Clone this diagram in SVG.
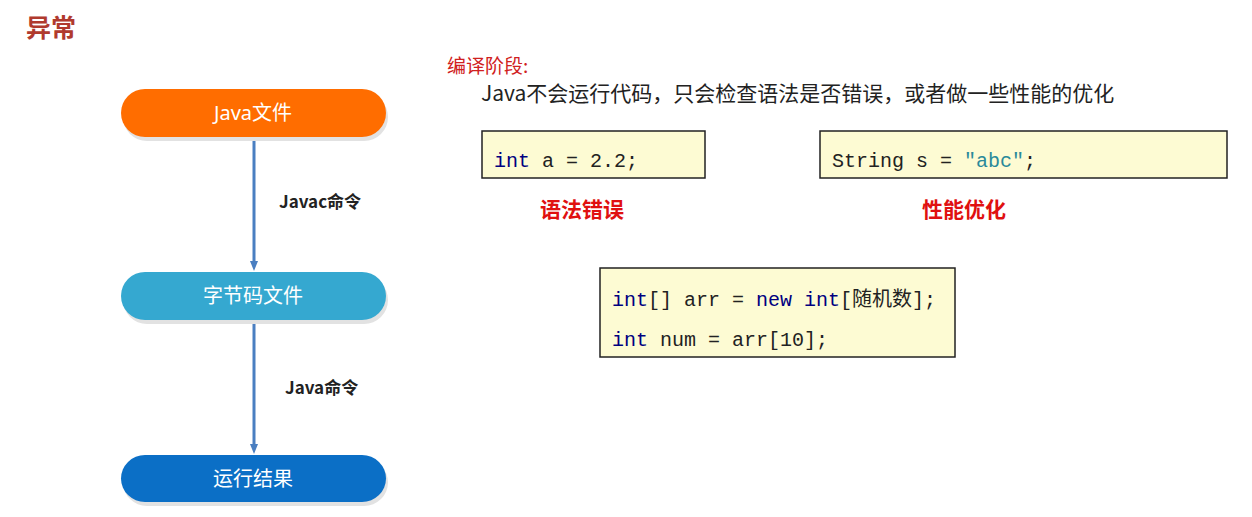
<svg xmlns="http://www.w3.org/2000/svg" width="1252" height="517" viewBox="0 0 1252 517">
<style>
.nt{font-family:"Noto Sans","Noto Sans CJK SC",sans-serif;font-size:20px;fill:#fff;text-anchor:middle}
.lbl{font-family:"Noto Sans CJK SC",sans-serif;font-size:17px;font-weight:bold;fill:#222}
.code{font-family:"Liberation Mono","Noto Sans CJK SC",monospace;font-size:20px;fill:#222}
.kw{fill:#000080}
.box{fill:#fdfbd3;stroke:#222;stroke-width:1.5}
.red{font-family:"Noto Sans CJK SC",sans-serif;font-weight:bold;font-size:21px;fill:#e01010}
</style>
<defs>
<marker id="ah" markerWidth="10" markerHeight="10" refX="5" refY="5" orient="auto" markerUnits="userSpaceOnUse"><path d="M0,1 L10,5 L0,9 z" fill="#4a7fc1"/></marker>
</defs>
<rect width="1252" height="517" fill="#fff"/>
<text x="26" y="37" font-family="Noto Sans CJK SC,sans-serif" font-size="25" font-weight="bold" fill="#b03a2e">异常</text>
<g id="connectors" stroke="#4a7fc1" stroke-width="3" fill="none">
<line x1="254" y1="137" x2="254" y2="266" marker-end="url(#ah)"/>
<line x1="254" y1="320" x2="254" y2="449" marker-end="url(#ah)"/>
</g>
<text class="lbl" x="279" y="208">Javac命令</text>
<text class="lbl" x="285" y="394">Java命令</text>
<g id="n1"><rect x="123" y="93" width="265" height="48" rx="24" fill="#e2e2e2"/><rect x="121" y="89" width="265" height="48" rx="24" fill="#ff6d00"/><text class="nt" x="253" y="120">Java文件</text></g>
<g id="n2"><rect x="123" y="276" width="265" height="48" rx="24" fill="#e2e2e2"/><rect x="121" y="272" width="265" height="48" rx="24" fill="#35a8d0"/><text class="nt" x="253" y="303">字节码文件</text></g>
<g id="n3"><rect x="123" y="459" width="265" height="47" rx="24" fill="#e2e2e2"/><rect x="121" y="455" width="265" height="47" rx="24" fill="#0b6fc6"/><text class="nt" x="253" y="486">运行结果</text></g>
<text x="447" y="73" font-family="Noto Sans CJK SC,sans-serif" font-size="19" fill="#d02020">编译阶段:</text>
<text x="481" y="101" font-family="Noto Sans CJK SC,sans-serif" font-size="21" fill="#222">Java不会运行代码，只会检查语法是否错误，或者做一些性能的优化</text>
<g id="b1"><rect class="box" x="482" y="131" width="223" height="47"/><text class="code" x="494" y="167"><tspan class="kw">int</tspan> a = 2.2;</text></g>
<g id="b2"><rect class="box" x="820" y="131" width="407" height="47"/><text class="code" x="832" y="167">String s = <tspan fill="#2a8a9a">"abc"</tspan>;</text></g>
<text class="red" x="540" y="217">语法错误</text>
<text class="red" x="922" y="217">性能优化</text>
<g id="b3"><rect class="box" x="600" y="268" width="355" height="89"/>
<text class="code" x="612" y="306"><tspan class="kw">int</tspan>[] arr = <tspan class="kw">new</tspan> <tspan class="kw">int</tspan>[随机数];</text>
<text class="code" x="612" y="346"><tspan class="kw">int</tspan> num = arr[10];</text></g>
</svg>
